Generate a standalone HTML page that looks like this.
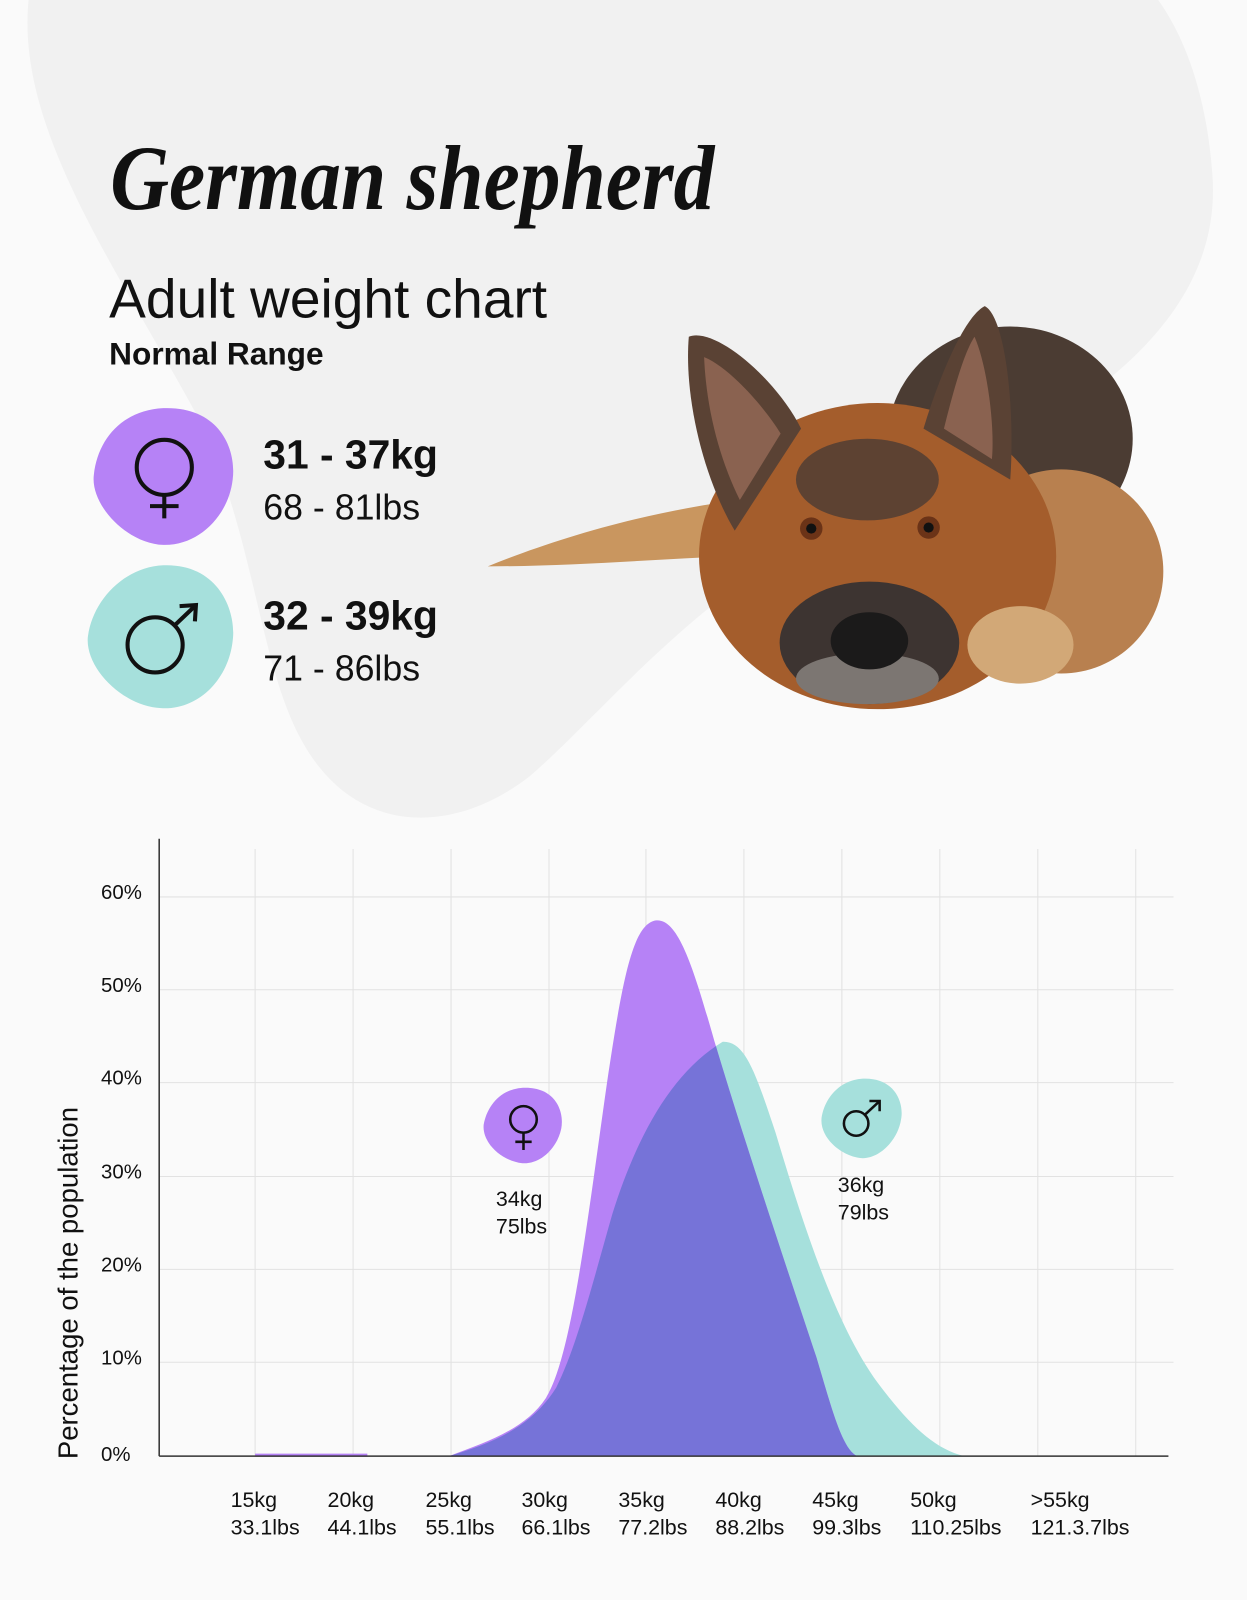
<!DOCTYPE html>
<html><head><meta charset="utf-8"><style>
html,body{margin:0;padding:0;background:#f9f9f9}
svg{display:block}
</style></head><body>
<svg width="1247" height="1600" viewBox="0 0 1222 1568" preserveAspectRatio="none" xmlns="http://www.w3.org/2000/svg" font-family="Liberation Sans, sans-serif">
<rect width="1222" height="1568" fill="#fafafa"/>
<path d="M28,0 C15,130 120,270 200,420 C260,560 255,690 320,760 C370,815 450,815 520,760 C600,690 690,570 850,500 C1050,420 1200,320 1188,170 C1182,90 1160,35 1135,0 Z" fill="#f1f1f1"/>
<text x="108" y="205" font-family="Liberation Serif, serif" font-style="italic" font-weight="bold" font-size="90" fill="#111" textLength="592" lengthAdjust="spacingAndGlyphs">German shepherd</text>
<text x="107" y="311" font-size="54" fill="#111">Adult weight chart</text>
<text x="107" y="357" font-size="31" font-weight="bold" fill="#111">Normal Range</text>
<path d="M160,400 C215,398 232,440 228,470 C224,505 195,535 160,534 C125,533 88,495 92,465 C96,430 120,402 160,400 Z" fill="#b682f6"/>
<g stroke="#111" stroke-width="4" fill="none"><circle cx="161" cy="458" r="27"/><line x1="161" y1="485" x2="161" y2="508"/><line x1="147" y1="496" x2="175" y2="496"/></g>
<path d="M160,554 C215,552 232,600 228,628 C224,665 195,696 158,694 C120,692 84,655 86,625 C90,590 120,556 160,554 Z" fill="#a6e0dc"/>
<g stroke="#111" stroke-width="4" fill="none"><circle cx="152" cy="632" r="27"/><line x1="171" y1="613" x2="192" y2="593"/><polyline points="176,594 192,593 191,609"/></g>
<text x="258" y="459" font-size="40" font-weight="bold" fill="#111">31 - 37kg</text>
<text x="258" y="509" font-size="35" fill="#111">68 - 81lbs</text>
<text x="258" y="617" font-size="40" font-weight="bold" fill="#111">32 - 39kg</text>
<text x="258" y="667" font-size="35" fill="#111">71 - 86lbs</text>
<!-- dog -->
<path d="M478,555 C540,530 620,505 710,492 L720,545 C640,548 560,555 478,555 Z" fill="#c9965f"/>
<ellipse cx="990" cy="430" rx="120" ry="110" fill="#4b3c33"/>
<ellipse cx="1040" cy="560" rx="100" ry="100" fill="#b8804f"/>
<ellipse cx="860" cy="545" rx="175" ry="150" fill="#a45d2c"/>
<path d="M675,330 C700,320 760,370 785,420 L720,520 C690,470 670,390 675,330 Z" fill="#5a4234"/>
<path d="M965,300 C985,310 995,400 990,470 L905,420 C920,370 945,310 965,300 Z" fill="#5a4234"/>
<path d="M690,350 C715,360 750,400 765,425 L725,490 C705,450 692,400 690,350 Z" fill="#8a6250"/>
<path d="M955,330 C968,360 975,420 972,450 L925,420 C935,380 945,345 955,330 Z" fill="#8a6250"/>
<ellipse cx="850" cy="470" rx="70" ry="40" fill="#5d4232"/>
<ellipse cx="852" cy="630" rx="88" ry="60" fill="#3d3431"/>
<ellipse cx="850" cy="665" rx="70" ry="25" fill="#7c7672"/>
<ellipse cx="852" cy="628" rx="38" ry="28" fill="#1b1a1a"/>
<ellipse cx="1000" cy="632" rx="52" ry="38" fill="#d2a877"/>
<circle cx="795" cy="518" r="11" fill="#6b3317"/><circle cx="910" cy="517" r="11" fill="#6b3317"/>
<circle cx="795" cy="518" r="5" fill="#111"/><circle cx="910" cy="517" r="5" fill="#111"/>
<!-- chart grid -->
<g stroke="#e2e2e2" stroke-width="1">
<line x1="156" y1="879" x2="1150" y2="879"/><line x1="156" y1="970" x2="1150" y2="970"/><line x1="156" y1="1061" x2="1150" y2="1061"/><line x1="156" y1="1153" x2="1150" y2="1153"/><line x1="156" y1="1244" x2="1150" y2="1244"/><line x1="156" y1="1335" x2="1150" y2="1335"/>
<line x1="250" y1="832" x2="250" y2="1427"/><line x1="346" y1="832" x2="346" y2="1427"/><line x1="442" y1="832" x2="442" y2="1427"/><line x1="538" y1="832" x2="538" y2="1427"/><line x1="633" y1="832" x2="633" y2="1427"/><line x1="729" y1="832" x2="729" y2="1427"/><line x1="825" y1="832" x2="825" y2="1427"/><line x1="921" y1="832" x2="921" y2="1427"/><line x1="1017" y1="832" x2="1017" y2="1427"/><line x1="1113" y1="832" x2="1113" y2="1427"/>
</g>
<defs>
<clipPath id="tc"><path d="M440,1427 C480,1415 520,1400 545,1360 C565,1320 580,1260 600,1190 C625,1110 660,1050 708,1021 C730,1020 740,1050 760,1110 C790,1210 820,1300 860,1355 C890,1395 915,1420 945,1427 Z"/></clipPath>
</defs>
<path d="M440,1427 C480,1415 520,1400 545,1360 C565,1320 580,1260 600,1190 C625,1110 660,1050 708,1021 C730,1020 740,1050 760,1110 C790,1210 820,1300 860,1355 C890,1395 915,1420 945,1427 Z" fill="#a6e0dc"/>
<path d="M440,1427 C480,1412 515,1400 535,1370 C560,1330 575,1200 595,1060 C610,960 620,905 643,902 C665,900 680,950 700,1020 C730,1120 770,1240 800,1330 C815,1380 825,1420 840,1427 Z" fill="#b682f6"/>
<path d="M440,1427 C480,1412 515,1400 535,1370 C560,1330 575,1200 595,1060 C610,960 620,905 643,902 C665,900 680,950 700,1020 C730,1120 770,1240 800,1330 C815,1380 825,1420 840,1427 Z" fill="#7673d8" clip-path="url(#tc)"/>
<line x1="250" y1="1426" x2="360" y2="1426" stroke="#b682f6" stroke-width="3"/>
<line x1="156" y1="822" x2="156" y2="1427" stroke="#333" stroke-width="1.5"/>
<line x1="156" y1="1427" x2="1145" y2="1427" stroke="#333" stroke-width="1.5"/>
<g font-size="20" fill="#111">
<text x="99" y="881">60%</text><text x="99" y="972">50%</text><text x="99" y="1063">40%</text><text x="99" y="1155">30%</text><text x="99" y="1246">20%</text><text x="99" y="1337">10%</text><text x="99" y="1432">0%</text>
</g>
<text transform="translate(76,1430) rotate(-90)" font-size="27" fill="#111">Percentage of the population</text>
<g font-size="21" fill="#111">
<text x="226" y="1477">15kg</text><text x="226" y="1504">33.1lbs</text>
<text x="321" y="1477">20kg</text><text x="321" y="1504">44.1lbs</text>
<text x="417" y="1477">25kg</text><text x="417" y="1504">55.1lbs</text>
<text x="511" y="1477">30kg</text><text x="511" y="1504">66.1lbs</text>
<text x="606" y="1477">35kg</text><text x="606" y="1504">77.2lbs</text>
<text x="701" y="1477">40kg</text><text x="701" y="1504">88.2lbs</text>
<text x="796" y="1477">45kg</text><text x="796" y="1504">99.3lbs</text>
<text x="892" y="1477">50kg</text><text x="892" y="1504">110.25lbs</text>
<text x="1010" y="1477">&gt;55kg</text><text x="1010" y="1504">121.3.7lbs</text>
</g>
<path d="M515,1066 C545,1066 553,1090 550,1106 C546,1125 530,1141 512,1140 C492,1138 472,1120 474,1102 C477,1085 490,1066 515,1066 Z" fill="#b682f6"/>
<g stroke="#111" stroke-width="2.5" fill="none"><circle cx="513" cy="1097" r="13"/><line x1="513" y1="1110" x2="513" y2="1127"/><line x1="505" y1="1119" x2="521" y2="1119"/></g>
<text x="486" y="1182" font-size="21" fill="#111">34kg</text><text x="486" y="1209" font-size="21" fill="#111">75lbs</text>
<path d="M848,1057 C878,1057 886,1082 883,1097 C880,1117 862,1136 844,1135 C824,1133 804,1115 805,1097 C807,1078 822,1057 848,1057 Z" fill="#a6e0dc"/>
<g stroke="#111" stroke-width="2.5" fill="none"><circle cx="839" cy="1101" r="12"/><line x1="848" y1="1092" x2="862" y2="1079"/><polyline points="852,1079 862,1079 862,1089"/></g>
<text x="821" y="1168" font-size="21" fill="#111">36kg</text><text x="821" y="1195" font-size="21" fill="#111">79lbs</text>
</svg>
</body></html>
